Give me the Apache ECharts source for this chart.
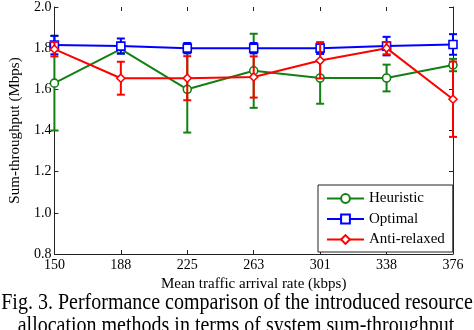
<!DOCTYPE html>
<html>
<head>
<meta charset="utf-8">
<script src="https://cdn.jsdelivr.net/npm/echarts@6/dist/echarts.min.js"></script>
<style>html,body{margin:0;padding:0;background:#fff;}#c{width:474px;height:330px;}</style>
</head>
<body>
<div id="c"></div>
<script>
const categories = ['150','188','225','263','301','338','376'];
const yTicks = [0.8, 2.0, 0.2]; // min, max, interval
const heuristic = [1.63, 1.795, 1.60, 1.69, 1.655, 1.655, 1.718];
const heuristicErr = [0.23, 0.02, 0.21, 0.18, 0.125, 0.065, 0.03];
const optimal = [1.815, 1.81, 1.80, 1.80, 1.80, 1.81, 1.818];
const optimalErr = [0.045, 0.037, 0.025, 0.025, 0.028, 0.045, 0.05];
const antiRelaxed = [1.795, 1.654, 1.654, 1.66, 1.74, 1.80, 1.552];
const antiRelaxedErr = [0.035, 0.08, 0.107, 0.10, 0.087, 0.03, 0.183];
const captionLines = ['Fig. 3. Performance comparison of the introduced resource',
                      'allocation methods in terms of system sum-throughput'];

const FONT = 'Liberation Serif, Times New Roman, serif';
const GREEN = '#138013', BLUE = '#0000ff', RED = '#ff0000';

function errData(vals, errs) {
  return vals.map((v, i) => [i, v - errs[i], v + errs[i]]);
}
function errSeries(name, vals, errs, color, z) {
  return {
    type: 'custom', name: name + ' err', z: z, silent: true,
    data: errData(vals, errs),
    renderItem: function (params, api) {
      const x = api.value(0);
      const lo = api.coord([x, api.value(1)]);
      const hi = api.coord([x, api.value(2)]);
      const w = 4;
      const st = { stroke: color, lineWidth: 2 };
      return { type: 'group', children: [
        { type: 'line', shape: { x1: lo[0], y1: lo[1], x2: hi[0], y2: hi[1] }, style: st },
        { type: 'line', shape: { x1: lo[0] - w, y1: lo[1], x2: lo[0] + w, y2: lo[1] }, style: st },
        { type: 'line', shape: { x1: hi[0] - w, y1: hi[1], x2: hi[0] + w, y2: hi[1] }, style: st }
      ]};
    }
  };
}
function lineSeries(name, vals, color, symbol, z) {
  return {
    type: 'line', name: name, data: vals, z: z,
    symbol: symbol, symbolSize: 8, showAllSymbol: true,
    lineStyle: { color: color, width: 2 },
    itemStyle: { color: '#fff', borderColor: color, borderWidth: 1.6 },
    emphasis: { disabled: true }
  };
}

const chart = echarts.init(document.getElementById('c'), null, { renderer: 'canvas' });
chart.setOption({
  animation: false,
  backgroundColor: '#fff',
  textStyle: { fontFamily: FONT, color: '#000' },
  grid: { left: 49, right: 21, top: 7, bottom: 76, containLabel: false },
  xAxis: [{
    type: 'category', data: categories, boundaryGap: false,
    name: 'Mean traffic arrival rate (kbps)', nameLocation: 'middle', nameGap: 10,
    nameTextStyle: { fontFamily: FONT, fontSize: 15, color: '#000' },
    axisLine: { lineStyle: { color: '#222', width: 1 } },
    axisTick: { inside: true, length: 4, alignWithLabel: true, lineStyle: { color: '#222' } },
    axisLabel: { fontFamily: FONT, fontSize: 14, color: '#000', margin: 4 },
    splitLine: { show: false }
  }, {
    type: 'category', data: categories, boundaryGap: false, position: 'top',
    axisLine: { show: false },
    axisTick: { inside: true, length: 4, alignWithLabel: true, lineStyle: { color: '#222' } },
    axisLabel: { show: false }, splitLine: { show: false }
  }],
  yAxis: [{
    type: 'value', min: yTicks[0], max: yTicks[1], interval: yTicks[2],
    name: 'Sum-throughput (Mbps)', nameLocation: 'middle', nameGap: 29,
    nameTextStyle: { fontFamily: FONT, fontSize: 15, color: '#000' },
    axisLine: { show: true, lineStyle: { color: '#222', width: 1 } },
    axisTick: { show: true, inside: true, length: 4, lineStyle: { color: '#222' } },
    axisLabel: { fontFamily: FONT, fontSize: 14, color: '#000', margin: 3,
      formatter: v => v.toFixed(1) },
    splitLine: { show: false }
  }, {
    type: 'value', min: yTicks[0], max: yTicks[1], interval: yTicks[2], position: 'right',
    axisLine: { show: true, lineStyle: { color: '#222', width: 1 } },
    axisTick: { show: true, inside: true, length: 4, lineStyle: { color: '#222' } },
    axisLabel: { show: false }, splitLine: { show: false }
  }],
  legend: {
    data: ['Heuristic', 'Optimal', 'Anti-relaxed'],
    orient: 'vertical', left: 318, top: 185,
    padding: [6, 8, 5, 8], itemGap: 5.5, itemWidth: 37, itemHeight: 11,
    backgroundColor: '#fff', borderColor: '#222', borderWidth: 1, borderRadius: 0,
    textStyle: { fontFamily: FONT, fontSize: 15, color: '#000' },
    selectedMode: false
  },
  series: [
    lineSeries('Heuristic', heuristic, GREEN, 'circle', 2),
    errSeries('Heuristic', heuristic, heuristicErr, GREEN, 2),
    lineSeries('Optimal', optimal, BLUE, 'rect', 3),
    errSeries('Optimal', optimal, optimalErr, BLUE, 3),
    lineSeries('Anti-relaxed', antiRelaxed, RED, 'diamond', 4),
    errSeries('Anti-relaxed', antiRelaxed, antiRelaxedErr, RED, 4)
  ],
  graphic: [
    { type: 'text', x: 237, y: 303, scaleY: 1.2,
      style: { x: 0, y: 0, text: captionLines[0], font: '20px ' + FONT, fill: '#000',
        textAlign: 'center', textVerticalAlign: 'middle' } },
    { type: 'text', x: 236, y: 326, scaleY: 1.2,
      style: { x: 0, y: 0, text: captionLines[1], font: '20px ' + FONT, fill: '#000',
        textAlign: 'center', textVerticalAlign: 'middle' } }
  ]
});
</script>
</body>
</html>
